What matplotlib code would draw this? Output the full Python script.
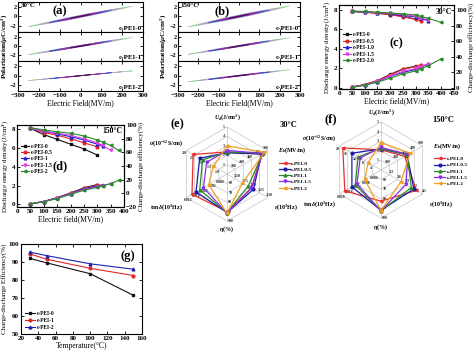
import matplotlib
matplotlib.use('Agg')
import matplotlib.pyplot as plt
import numpy as np
from matplotlib.path import Path
from matplotlib.patches import PathPatch

plt.rcParams['font.family'] = ['Liberation Serif', 'DejaVu Serif']
plt.rcParams['font.weight'] = 'bold'
plt.rcParams['mathtext.fontset'] = 'custom'
plt.rcParams['mathtext.rm'] = 'Liberation Serif:bold'
plt.rcParams['mathtext.it'] = 'Liberation Serif:italic:bold'
plt.rcParams['mathtext.bf'] = 'Liberation Serif:bold'
plt.rcParams['axes.linewidth'] = 0.8
for a in ('xtick', 'ytick'):
    plt.rcParams[a + '.direction'] = 'in'
    plt.rcParams[a + '.major.size'] = 2
    plt.rcParams[a + '.major.width'] = 0.6
    plt.rcParams[a + '.labelsize'] = 5
    plt.rcParams[a + '.major.pad'] = 1.5

# ---------------- data ----------------
# (a),(b) P-E loops
loop_fields = [50, 100, 150, 200, 250]
loop_colors = ['#3a0a4a', '#c0208a', '#2a30d0', '#c090e0', '#80c880']
pe_names = ['c-PEI-0', 'c-PEI-1', 'c-PEI-2']
pe30_pmax = [[0.45, 0.9, 1.35, 1.8, 2.2], [0.38, 0.76, 1.14, 1.52, 1.85], [0.22, 0.44, 0.66, 0.86, 1.05]]
pe30_pr = [[0.06, 0.12, 0.18, 0.24, 0.26], [0.05, 0.1, 0.15, 0.19, 0.21], [0.01, 0.02, 0.03, 0.04, 0.05]]
pe150_pmax = [[0.45, 0.9, 1.35, 1.8, 2.25], [0.37, 0.74, 1.1, 1.45, 1.8], [0.27, 0.54, 0.8, 1.05, 1.3]]
pe150_pr = [[0.07, 0.14, 0.2, 0.27, 0.3], [0.05, 0.1, 0.14, 0.18, 0.2], [0.04, 0.07, 0.1, 0.13, 0.14]]

# (c) 30 C
c_labels = ['c-PEI-0', 'c-PEI-0.5', 'c-PEI-1.0', 'c-PEI-1.5', 'c-PEI-2.0']
c_fields = [[50, 100, 150, 200, 250, 300],
            [50, 100, 150, 200, 250, 300, 320],
            [50, 100, 150, 200, 250, 300, 320, 350],
            [50, 100, 150, 200, 250, 300, 320, 350],
            [50, 100, 150, 200, 250, 300, 320, 350, 400]]
c_ud = [[0.1, 0.35, 0.75, 1.4, 1.95, 2.25],
        [0.1, 0.35, 0.75, 1.35, 1.9, 2.2, 2.4],
        [0.08, 0.3, 0.65, 1.2, 1.6, 1.9, 2.15, 2.45],
        [0.08, 0.3, 0.68, 1.25, 1.7, 2.0, 2.2, 2.5],
        [0.07, 0.28, 0.6, 1.0, 1.45, 1.75, 1.95, 2.3, 3.0]]
c_eta = [[98, 97, 96, 94, 92, 88],
         [98, 97, 95.5, 94, 91, 88, 86],
         [98, 97.5, 96.5, 95, 93, 91, 89, 86],
         [98.5, 97.5, 96.5, 95.5, 94, 92, 90, 87],
         [98.5, 98, 97, 96, 95, 93.5, 92, 89, 84]]

# (d) 150 C
d_labels = ['c-PEI-0', 'c-PEI-0.5', 'c-PEI-1', 'c-PEI-1.5', 'c-PEI-2']
d_fields = [[50, 100, 150, 200, 250, 300],
            [50, 100, 150, 200, 250, 300],
            [50, 100, 150, 200, 250, 300, 320],
            [50, 100, 150, 200, 250, 300, 320, 350],
            [50, 100, 150, 200, 250, 300, 320, 350, 380]]
d_ud = [[0.05, 0.3, 0.7, 1.2, 1.75, 2.1],
        [0.05, 0.3, 0.7, 1.2, 1.7, 2.05],
        [0.05, 0.3, 0.68, 1.15, 1.65, 1.95, 2.1],
        [0.05, 0.28, 0.65, 1.1, 1.55, 1.85, 2.0, 2.2],
        [0.05, 0.28, 0.62, 1.05, 1.5, 1.8, 1.95, 2.2, 2.55]]
d_eta = [[95, 86, 79, 72, 65, 56],
         [95, 89, 85, 80, 74, 68],
         [95, 91, 87, 83, 78, 72, 69],
         [95, 91, 88, 85, 80, 74, 70, 63],
         [96, 93, 90, 88, 84, 78, 75, 70, 63]]

series_colors = ['#111111', '#e02828', '#2020d0', '#e040e8', '#2a8a2a']
series_markers = ['s', 'o', '^', 'v', '<']

# (e),(f) radar
radar_axes = [r'$U_d$(J/cm$^3$)', r'$E_b$(MV/m)', r'$\varepsilon$(10$^3$Hz)',
              r'$\eta$(%)', r'tan$\delta$(10$^3$Hz)', r'$\sigma$(10$^{-12}$S/cm)']
radar_labels = ['c-PEI-0', 'c-PEI-0.5', 'c-PEI-1', 'c-PEI-1.5', 'c-PEI-2']
radar_colors = ['#e83030', '#1a1aa8', '#2a8a2a', '#8a30e0', '#f0a020']
radar_markers = ['<', 'o', '^', 'v', '<']
e_center = [0, 0, 3.05, 50, 0.002, 0.5]
e_outer = [5, 500, 3.30, 100, 0.012, 3.0]
e_ticks = [['1', '2', '3', '4', '5'], ['100', '200', '300', '400', '500'],
           ['3.10', '3.15', '3.20', '3.25', '3.30'], ['60', '70', '80', '90', '100'],
           ['0.004', '0.006', '0.008', '0.010', '0.012'], ['1.0', '1.5', '2.0', '2.5', '3.0']]
e_values = [[2.35, 425, 3.20, 90, 0.0106, 2.58],
            [2.25, 425, 3.2125, 91, 0.0096, 2.18],
            [2.35, 440, 3.18, 91, 0.0087, 2.0],
            [2.5, 440, 3.20, 91.5, 0.0078, 1.75],
            [3.0, 460, 3.145, 92, 0.0065, 1.33]]
f_center = [0, 0, 3.0, 50, 0, 0]
f_outer = [5, 500, 4.5, 100, 0.02, 20]
f_ticks = [['1', '2', '3', '4', '5'], ['100', '200', '300', '400', '500'],
           ['3.3', '3.6', '3.9', '4.2', '4.5'], ['60', '70', '80', '90', '100'],
           ['0.004', '0.008', '0.012', '0.016', '0.020'], ['4', '8', '12', '16', '20']]
f_values = [[2.1, 285, 4.275, 82.5, 0.0174, 18.4],
            [2.2, 315, 4.185, 92, 0.014, 14],
            [2.25, 315, 4.095, 92.5, 0.0124, 11],
            [2.35, 325, 3.9, 92.5, 0.0116, 10],
            [2.85, 350, 3.72, 92.5, 0.0078, 6.2]]

# (g)
g_temps = [30, 50, 100, 150]
g_labels = ['c-PEI-0', 'c-PEI-1', 'c-PEI-2']
g_eta = [[92, 89.5, 83.5, 71.5], [94.5, 91.5, 86.5, 82.5], [95.5, 93.5, 89, 86]]
g_colors = ['#111111', '#e02828', '#2020b0']

# ---------------- figure ----------------
W, H = 474, 353
fig = plt.figure(figsize=(W / 100, H / 100), dpi=100)


def rect(l, t, r, b):
    return [l / W, 1 - b / H, (r - l) / W, (b - t) / H]


def ftext(x, y, s, **kw):
    fig.text(x / W, 1 - y / H, s, **kw)


def draw_pe(left, right, pmax, pr, temp, tag, tagx):
    tops = [2, 31.7, 61.3]
    bots = [31.7, 61.3, 91]
    axes = []
    for i in range(3):
        ax = fig.add_axes(rect(left, tops[i], right, bots[i]))
        for Em, Pm, Pr, col in reversed(list(zip(loop_fields, pmax[i], pr[i], loop_colors))):
            verts = [(-Em, -Pm), (0, -2 * Pr), (Em, Pm), (0, 2 * Pr), (-Em, -Pm)]
            codes = [Path.MOVETO, Path.CURVE3, Path.CURVE3, Path.CURVE3, Path.CURVE3]
            ax.add_patch(PathPatch(Path(verts, codes), facecolor=col, edgecolor=col,
                                   lw=0.5, alpha=0.7))
        ax.set_xlim(-300, 300)
        ax.set_ylim(-3.3, 3.1)
        ax.set_yticks([-2, 0, 2])
        ax.set_xticks(range(-300, 301, 100))
        ax.tick_params(top=True, right=True)
        ax.tick_params(axis='y', labelsize=4.5, pad=1)
        ax.text(0.99, 0.03, pe_names[i], transform=ax.transAxes, ha='right', va='bottom',
                fontsize=5)
        if i < 2:
            ax.set_xticklabels([])
        else:
            ax.set_xlabel('Electric Field(MV/m)', fontsize=5.5, labelpad=0.5)
        axes.append(ax)
    axes[0].text(0.02, 0.97, temp, transform=axes[0].transAxes, ha='left', va='top', fontsize=5)
    ftext(tagx, 11, tag, fontsize=9, ha='center', va='center')
    return axes


draw_pe(18, 143, pe30_pmax, pe30_pr, '30°C', '(a)', 60)
ftext(4, 46, r'Polarization($\mu$C/cm$^2$)', rotation=90, fontsize=5, ha='center', va='center')
draw_pe(178, 300, pe150_pmax, pe150_pr, '150°C', '(b)', 222)
ftext(163, 46, r'Polarization($\mu$C/cm$^2$)', rotation=90, fontsize=5, ha='center', va='center')


def draw_energy(r, fields, ud, eta, labels, xlim, xticks, lylim, rylim, rticks, temp, tag, tagxy, leg_anchor):
    ax = fig.add_axes(rect(*r))
    ax2 = ax.twinx()
    for f, u, e, col, m, lab in zip(fields, ud, eta, series_colors, series_markers, labels):
        ax.plot(f, u, color=col, marker=m, ms=2, lw=0.8, label=lab)
        ax2.plot(f, e, color=col, marker=m, ms=2, lw=0.8)
    ax.set_xlim(*xlim)
    ax.set_xticks(xticks)
    ax.set_ylim(*lylim)
    ax.set_yticks([0, 2, 4, 6, 8])
    ax2.set_ylim(*rylim)
    ax2.set_yticks(rticks)
    ax.tick_params(top=True)
    ax2.tick_params(direction='in', length=2, labelsize=5, pad=1.5)
    ax.set_xlabel('Electric field(MV/m)', fontsize=5.5, labelpad=0.5)
    ax.set_ylabel('Discharge energy density(J/cm$^3$)', fontsize=5, labelpad=1)
    ax2.set_ylabel('Charge-discharge efficiency(%)', fontsize=5, labelpad=1, rotation=90)
    ax.legend(loc='upper left', bbox_to_anchor=leg_anchor, fontsize=4, frameon=False,
              handlelength=1.5, labelspacing=0.25, borderpad=0.2, handletextpad=0.3)
    ax.text(0.98, 0.97, temp, transform=ax.transAxes, ha='right', va='top', fontsize=5.5)
    ax.text(tagxy[0], tagxy[1], tag, transform=ax.transAxes, ha='center', va='center', fontsize=9)
    return ax


draw_energy((339, 5, 454, 89), c_fields, c_ud, c_eta, c_labels, (0, 450), range(0, 451, 50),
            (-0.1, 8.5), (-1.25, 106.25), range(0, 101, 20), '30°C', '(c)', (0.5, 0.55), (0.0, 0.72))
draw_energy((17, 125, 124, 207), d_fields, d_ud, d_eta, d_labels, (0, 400), range(0, 401, 50),
            (-0.28, 8.42), (-20, 100), range(-20, 101, 20), '150°C', '(d)', (0.4, 0.5), (0.0, 0.82))


def draw_radar(cx, cy, R, values, centers, outers, ticks, temp, tag, leg_x):
    k = 1.45
    ax = fig.add_axes(rect(cx - k * R, cy - k * R, cx + k * R, cy + k * R))
    ax.set_xlim(-k, k)
    ax.set_ylim(-k, k)
    ax.axis('off')
    ang = np.deg2rad([90, 30, -30, -90, -150, 150])
    cs, sn = np.cos(ang), np.sin(ang)
    for f in [0.2, 0.4, 0.6, 0.8, 1.0]:
        ax.plot(np.append(cs, cs[0]) * f, np.append(sn, sn[0]) * f, color='#c4c4c4', lw=0.5, zorder=1)
    for c, s in zip(cs, sn):
        ax.plot([0, c], [0, s], color='#c4c4c4', lw=0.5, zorder=1)
    for j in range(6):
        for i, t in enumerate(ticks[j]):
            f = 0.2 * (i + 1)
            ax.text(cs[j] * f - 0.07 * sn[j], sn[j] * f + 0.07 * cs[j], t,
                    fontsize=2.8, ha='center', va='center', zorder=2, color='#222222')
    for vals, col, m, lab in zip(values, radar_colors, radar_markers, radar_labels):
        fr = np.array([(v - c0) / (o - c0) for v, c0, o in zip(vals, centers, outers)])
        xs, ys = fr * cs, fr * sn
        ax.plot(np.append(xs, xs[0]), np.append(ys, ys[0]), color=col, lw=0.9, marker=m,
                ms=2, label=lab, zorder=3)
    offs = [(0, 1.1, 'center', 'bottom'), (1.08, 0.5, 'left', 'center'),
            (1.0, -0.6, 'left', 'top'), (0, -1.08, 'center', 'top'),
            (-0.95, -0.6, 'right', 'top'), (-0.92, 0.56, 'right', 'bottom')]
    for (x, y, ha, va), s in zip(offs, radar_axes):
        ax.text(x, y, s, fontsize=4.3, ha=ha, va=va)
    ax.text(-1.05, 1.05, tag, fontsize=9, ha='center', va='center')
    ax.text(1.3, 1.05, temp, fontsize=6, ha='center', va='center')
    ax.legend(loc='upper left', bbox_to_anchor=(leg_x, 0.62), fontsize=3.8, frameon=False,
              handlelength=2.0, labelspacing=0.3, borderpad=0.1, handletextpad=0.3)
    return ax


draw_radar(227, 174, 47, e_values, e_center, e_outer, e_ticks, '30°C', '(e)', 0.86)
draw_radar(381, 170, 48, f_values, f_center, f_outer, f_ticks, '150°C', '(f)', 0.86)

ax = fig.add_axes(rect(21, 244, 142, 334))
for vals, col, m, lab in zip(g_eta, g_colors, ['s', 'o', '^'], g_labels):
    ax.plot(g_temps, vals, color=col, marker=m, ms=2, lw=0.8, label=lab)
ax.set_xlim(20, 160)
ax.set_ylim(50, 100)
ax.set_xticks(range(20, 161, 20))
ax.set_yticks(range(50, 101, 10))
ax.tick_params(top=True, right=True)
ax.set_xlabel('Temperature(°C)', fontsize=5.5, labelpad=0.5)
ax.set_ylabel('Charge-discharge Efficiency(%)', fontsize=5, labelpad=1)
ax.legend(loc='lower left', fontsize=4, frameon=False, handlelength=1.8, labelspacing=0.3,
          borderpad=0.3, handletextpad=0.3)
ax.text(0.88, 0.87, '(g)', transform=ax.transAxes, fontsize=9, ha='center', va='center')

fig.savefig('out.png', dpi=100)
